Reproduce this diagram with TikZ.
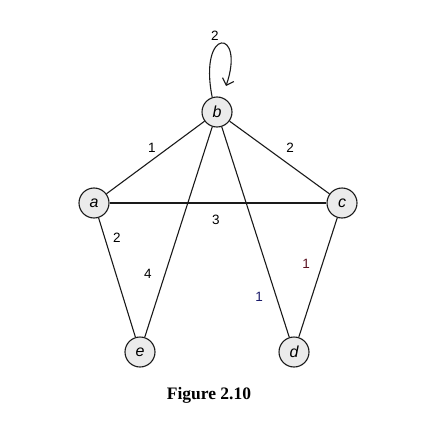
\documentclass[tikz,border=0pt]{standalone}
\usepackage{fontspec}
\setmainfont{Liberation Serif}
\setsansfont{Liberation Sans}
\usetikzlibrary{arrows.meta}
\definecolor{nodefill}{HTML}{EBEBEB}
\definecolor{edgecol}{HTML}{1A1A1A}
\definecolor{lblred}{HTML}{5A1020}
\definecolor{lblblue}{HTML}{1A1A6A}
\tikzset{
  vtx/.style={circle, draw=edgecol, line width=1.1pt, fill=nodefill, minimum size=30pt, inner sep=0pt, font=\sffamily\itshape\fontsize{16}{16}\selectfont},
  edge/.style={draw=edgecol, line width=1.1pt},
  wlbl/.style={font=\sffamily\fontsize{13.5}{13.5}\selectfont, text=black, inner sep=1pt},
}
\begin{document}
\begin{tikzpicture}[x=1pt,y=-1pt]
\useasboundingbox (0,0) rectangle (430,436);
\node[vtx] (b) at (217,112) {b};
\node[vtx] (a) at (94,203) {a};
\node[vtx] (c) at (342,203) {c};
\node[vtx] (e) at (140,352) {e};
\node[vtx] (d) at (294,352) {d};
\draw[edge] (b) -- (a);
\draw[edge] (b) -- (c);
\draw[edge, line width=1.6pt] (a) -- (c);
\draw[edge] (a) -- (e);
\draw[edge] (b) -- (e);
\draw[edge] (b) -- (d);
\draw[edge] (c) -- (d);
\draw[edge, -{Straight Barb[length=6pt,width=12pt]}] (b.108) .. controls (198,26) and (246,28) .. (226,86);
\node[wlbl] (l0) at (215,36) {2};
\node[wlbl] (l1) at (152,148) {1};
\node[wlbl] (l2) at (290,148) {2};
\node[wlbl] (l3) at (216,220) {3};
\node[wlbl] (l4) at (117,238) {2};
\node[wlbl] (l5) at (148,274) {4};
\node[wlbl, text=lblred] (l6) at (306,264) {1};
\node[wlbl, text=lblblue] (l7) at (259,297) {1};
\node[font=\rmfamily\bfseries\fontsize{17.5}{17.5}\selectfont] (cap) at (209,395) {Figure 2.10};
\end{tikzpicture}
\end{document}
